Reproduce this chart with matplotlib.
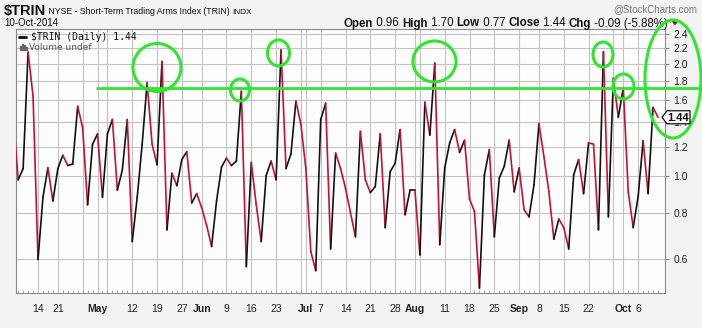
import matplotlib
matplotlib.use('Agg')
import matplotlib.pyplot as plt
import numpy as np
import pandas as pd
from matplotlib.collections import LineCollection
from matplotlib.patches import Ellipse, Polygon, Rectangle
from matplotlib import font_manager as fm

plt.rcParams['text.parse_math'] = False
names = {f.name for f in fm.fontManager.ttflist}
NARROW = 'Liberation Sans Narrow' if 'Liberation Sans Narrow' in names else 'Liberation Sans'

# ---------------- data ----------------
start_date, end_date = '2014-04-07', '2014-10-10'
holidays = ['2014-04-18', '2014-05-26', '2014-07-04', '2014-09-01']

trin_apr = [1.45, 0.98, 1.05, 2.15, 1.64, 0.60, 0.88, 1.055, 0.86, 1.05, 1.14, 1.07, 1.08, 1.54, 1.35, 0.84, 1.22]
trin_may = [1.30, 0.88, 1.30, 1.42, 0.92, 1.04, 1.42, 0.67, 0.88, 1.22, 1.78, 1.22, 1.075, 2.03, 0.72, 1.02, 0.945,
            1.11, 1.165, 0.85, 0.90]
trin_jun = [0.825, 0.74, 0.65, 0.86, 1.06, 1.12, 1.07, 1.10, 1.69, 0.574, 1.09, 0.84, 0.67, 1.005, 1.10, 0.98,
            2.18, 1.05, 1.15, 1.59, 1.38]
trin_jul = [1.05, 0.63, 0.56, 1.42, 1.57, 0.64, 1.155, 1.05, 0.93, 0.80, 0.69, 1.32, 0.98, 0.905, 0.94, 1.30,
            0.73, 1.03, 1.085, 1.335, 0.79, 0.918]
trin_aug = [0.918, 0.617, 1.58, 1.29, 2.01, 0.657, 1.054, 1.23, 1.335, 1.16, 1.25, 0.87, 0.806, 0.503, 1.01, 1.18,
            0.69, 0.99, 1.065, 1.25, 0.91]
trin_sep = [1.054, 0.815, 0.78, 0.95, 1.385, 1.13, 0.91, 0.68, 0.77, 0.73, 0.64, 1.01, 1.11, 0.90, 1.23, 1.22,
            0.72, 2.155, 0.78, 1.83, 1.44]
trin_oct = [1.725, 0.91, 0.73, 0.885, 1.247, 0.90, 1.53, 1.44]

y_ticks = [0.6, 0.8, 1.0, 1.2, 1.4, 1.6, 1.8, 2.0, 2.2, 2.4]
x_labels = [('2014-04-14', '14'), ('2014-04-21', '21'), ('2014-05-01', 'May'), ('2014-05-12', '12'),
            ('2014-05-19', '19'), ('2014-05-27', '27'), ('2014-06-02', 'Jun'), ('2014-06-09', '9'),
            ('2014-06-16', '16'), ('2014-06-23', '23'), ('2014-07-01', 'Jul'), ('2014-07-07', '7'),
            ('2014-07-14', '14'), ('2014-07-21', '21'), ('2014-07-28', '28'), ('2014-08-01', 'Aug'),
            ('2014-08-11', '11'), ('2014-08-18', '18'), ('2014-08-25', '25'), ('2014-09-02', 'Sep'),
            ('2014-09-08', '8'), ('2014-09-15', '15'), ('2014-09-22', '22'), ('2014-10-01', 'Oct'),
            ('2014-10-06', '6')]
month_names = {'May', 'Jun', 'Jul', 'Aug', 'Sep', 'Oct'}

trin = np.array(trin_apr + trin_may + trin_jun + trin_jul + trin_aug + trin_sep + trin_oct)
dates = pd.bdate_range(start_date, end_date).difference(pd.to_datetime(holidays))
assert len(dates) == len(trin), (len(dates), len(trin))
xi = np.arange(len(trin))
date_index = {d.strftime('%Y-%m-%d'): i for i, d in enumerate(dates)}

# ---------------- figure ----------------
W, H = 702, 328
fig = plt.figure(figsize=(W / 100, H / 100), dpi=100, facecolor='#f3f3f3')
L, R, T, B = 16, 665, 29, 293
ax = fig.add_axes([L / W, 1 - B / H, (R - L) / W, (B - T) / H], facecolor='#fdfdfd')

ax.set_yscale('log')
YLIM = (0.488, 2.48)
px_per_day = 4.96
x_left = date_index['2014-04-14'] - (38 - L) / px_per_day
XLIM = (x_left, x_left + (R - L) / px_per_day)

# gridlines: first trading day of each week and each month
wk = pd.Series(dates).dt.isocalendar().week.values
mo = pd.Series(dates).dt.month.values
grid_idx = [i for i in range(len(dates)) if i > 0 and (wk[i] != wk[i - 1] or mo[i] != mo[i - 1])]
for gx in grid_idx:
    ax.axvline(gx, color='#c2c2c2', lw=0.8, zorder=1)
for gy in y_ticks:
    ax.axhline(gy, color='#c2c2c2', lw=0.8, zorder=1)

# price line, black up / red down
pts = np.column_stack([xi, trin])
segs = np.stack([pts[:-1], pts[1:]], axis=1)
cols = ['#111111' if trin[i + 1] >= trin[i] else '#c8102e' for i in range(len(trin) - 1)]
lc = LineCollection(segs, colors=cols, linewidths=1.2, zorder=3, capstyle='round', joinstyle='round')
ax.add_collection(lc)

# axes styling
for s in ax.spines.values():
    s.set_color('#8a8a8a')
    s.set_linewidth(0.8)
ax.yaxis.tick_right()
ax.set_yticks(y_ticks)
ax.set_yticklabels([f'{v:.1f}' for v in y_ticks], fontsize=7.5, family='Liberation Sans', color='#222222')
ax.yaxis.set_minor_locator(matplotlib.ticker.NullLocator())
ax.tick_params(axis='y', length=3, pad=3, color='#8a8a8a')

lab_pos = [date_index[d] for d, _ in x_labels]
ax.set_xticks(lab_pos)
ax.set_xticklabels([t for _, t in x_labels], fontsize=7.5, family=NARROW, color='#222222')
for tl, (_, t) in zip(ax.get_xticklabels(), x_labels):
    if t in month_names:
        tl.set_fontweight('bold')
ax.set_xticks(xi[1:], minor=True)
ax.tick_params(axis='x', which='major', length=0, pad=8)
ax.tick_params(axis='x', which='minor', length=2, direction='in', color='#9a9a9a', width=0.6)
ax.set_xlim(*XLIM)
ax.set_ylim(*YLIM)

# ---------------- overlay (pixel coords) ----------------
ov = fig.add_axes([0, 0, 1, 1], zorder=10)
ov.set_xlim(0, W)
ov.set_ylim(H, 0)
ov.axis('off')
ov.patch.set_alpha(0)
fig.canvas.draw()
rend = fig.canvas.get_renderer()


def runs(x, y, parts, ha='left'):
    objs = []
    total = 0
    for s, kw in parts:
        t = ov.text(0, y, s, va='baseline', ha='left', **kw)
        w = t.get_window_extent(rend).width
        objs.append((t, w))
        total += w
    cx = x - total if ha == 'right' else x
    for t, w in objs:
        t.set_x(cx)
        cx += w


hdr = dict(family=NARROW, color='#111111')
runs(4, 14.5, [('$TRIN', dict(fontsize=10.5, fontweight='bold', **hdr)),
               (' NYSE - Short-Term Trading Arms Index (TRIN) ', dict(fontsize=6.3, **hdr)),
               ('INDX', dict(fontsize=6, **hdr))])
ov.text(697, 12.5, '@StockCharts.com', ha='right', va='baseline', fontsize=7, family=NARROW, color='#777777')
ov.text(4, 26.5, '10-Oct-2014', ha='left', va='baseline', fontsize=7, **hdr)
b = dict(fontsize=8.3, fontweight='bold', **hdr)
n = dict(fontsize=8.3, **hdr)
runs(668, 26.5, [('Open', b), (' 0.96 ', n), ('High', b), (' 1.70 ', n), ('Low', b), (' 0.77 ', n),
                 ('Close', b), (' 1.44 ', n), ('Chg', b), (' -0.09 (-5.88%)', n)], ha='right')
ov.add_patch(Polygon([[672, 20.5], [678, 20.5], [675, 24.5]], closed=True, color='#8b1a1a'))

# legend
ov.plot([18, 27], [36.5, 36.5], color='#111111', lw=2, solid_capstyle='butt')
ov.text(31, 37, '$TRIN (Daily) 1.44', va='center', ha='left', fontsize=7, family='DejaVu Sans Mono',
        color='#111111')
for bx, bh in [(19.5, 4), (21.5, 6), (23.5, 5), (25.5, 3)]:
    ov.add_patch(Rectangle((bx, 50 - bh), 1.5, bh, color='#666666'))
ov.text(29, 47, 'Volume undef', va='center', ha='left', fontsize=6.5, family='DejaVu Sans', color='#555555')

# last value tag
disp = ax.transData.transform((xi[-1], trin[-1]))
ty = H - disp[1]
ov.add_patch(Polygon([[662, ty], [667, ty - 6.5], [690, ty - 6.5], [690, ty + 6.5], [667, ty + 6.5]],
                     closed=True, fc='white', ec='#111111', lw=0.9, zorder=5))
ov.text(678.5, ty + 0.5, f'{trin[-1]:.2f}', ha='center', va='center', fontsize=8, fontweight='bold',
        family='Liberation Sans', color='#111111', zorder=6)

# green hand-drawn annotations
g = '#2fe52f'
ov.plot([96, 702], [88, 88], color=g, lw=2.0, solid_capstyle='butt', zorder=4)
for cx, cy, w, h in [(157, 67.5, 48, 48), (240, 90, 19, 22), (278.5, 53, 22, 26), (434.5, 61.5, 43, 41),
                     (603, 54.5, 20, 25), (623.5, 86.5, 21, 25), (673, 79, 56, 118)]:
    ov.add_patch(Ellipse((cx, cy), w, h, fill=False, ec=g, lw=2.2, zorder=4, clip_on=False))

fig.savefig('out.png', dpi=100, facecolor=fig.get_facecolor())
